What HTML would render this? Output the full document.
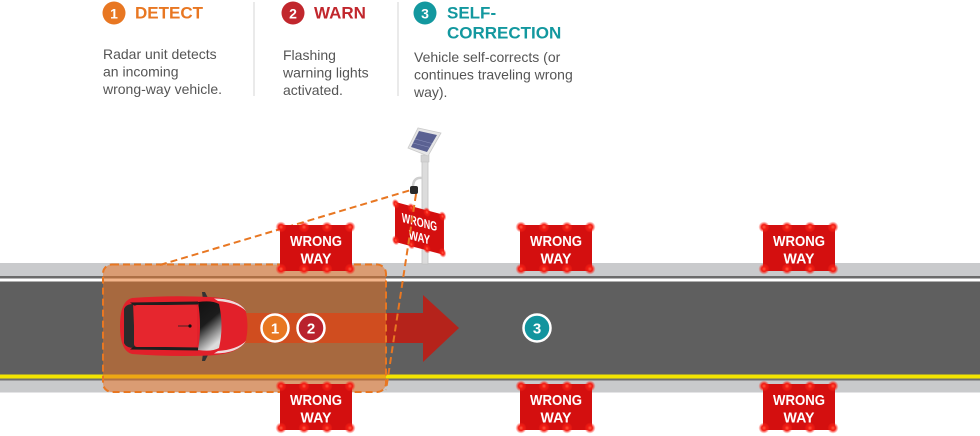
<!DOCTYPE html>
<html><head><meta charset="utf-8"><style>
html,body{margin:0;padding:0;background:#fff;}
svg{display:block;}
</style></head><body>
<svg width="980" height="436" viewBox="0 0 980 436" xmlns="http://www.w3.org/2000/svg" font-family="'Liberation Sans', Arial, sans-serif">
<defs>
  <radialGradient id="glow">
    <stop offset="0" stop-color="#ff5a40"/>
    <stop offset="0.45" stop-color="#f21a12"/>
    <stop offset="1" stop-color="#ff2a1a" stop-opacity="0"/>
  </radialGradient>
  <g id="lights">
    <circle cx="1" cy="3" r="5.5" fill="url(#glow)"/>
    <circle cx="24" cy="3" r="5.5" fill="url(#glow)"/>
    <circle cx="47" cy="3" r="5.5" fill="url(#glow)"/>
    <circle cx="70" cy="3" r="5.5" fill="url(#glow)"/>
    <circle cx="1" cy="45" r="5.5" fill="url(#glow)"/>
    <circle cx="24" cy="45" r="5.5" fill="url(#glow)"/>
    <circle cx="47" cy="45" r="5.5" fill="url(#glow)"/>
    <circle cx="70" cy="45" r="5.5" fill="url(#glow)"/>
  </g>
  <linearGradient id="wind" x1="0" y1="0" x2="0.4" y2="1">
    <stop offset="0" stop-color="#111"/>
    <stop offset="0.5" stop-color="#1c1c1c"/>
    <stop offset="0.78" stop-color="#8a8a8a"/>
    <stop offset="1" stop-color="#dcdcdc"/>
  </linearGradient>
</defs>

<!-- Top text -->
<circle cx="114" cy="13" r="11.5" fill="#e87722"/>
<text x="114" y="18.5" font-size="14" font-weight="bold" fill="#fff" text-anchor="middle">1</text>
<text x="135" y="18.5" font-size="17" font-weight="bold" fill="#e87722">DETECT</text>
<text font-size="14" fill="#555">
  <tspan x="103" y="59">Radar unit detects</tspan>
  <tspan x="103" y="76.5">an incoming</tspan>
  <tspan x="103" y="94">wrong-way vehicle.</tspan>
</text>
<line x1="254" y1="2" x2="254" y2="96" stroke="#e3e3e3" stroke-width="1.5"/>

<circle cx="293" cy="13" r="11.5" fill="#c1272d"/>
<text x="293" y="18.5" font-size="14" font-weight="bold" fill="#fff" text-anchor="middle">2</text>
<text x="314" y="18.5" font-size="17" font-weight="bold" fill="#c1272d">WARN</text>
<text font-size="14" fill="#555">
  <tspan x="283" y="60">Flashing</tspan>
  <tspan x="283" y="77.5">warning lights</tspan>
  <tspan x="283" y="95">activated.</tspan>
</text>
<line x1="398" y1="2" x2="398" y2="96" stroke="#e3e3e3" stroke-width="1.5"/>

<circle cx="425" cy="13" r="11.5" fill="#13989f"/>
<text x="425" y="18.5" font-size="14" font-weight="bold" fill="#fff" text-anchor="middle">3</text>
<text font-size="17" font-weight="bold" fill="#13989f">
  <tspan x="447" y="18.5">SELF-</tspan>
  <tspan x="447" y="38.5">CORRECTION</tspan>
</text>
<text font-size="14" fill="#555">
  <tspan x="414" y="62">Vehicle self-corrects (or</tspan>
  <tspan x="414" y="79.5">continues traveling wrong</tspan>
  <tspan x="414" y="97">way).</tspan>
</text>

<!-- Road -->
<rect x="0" y="263" width="980" height="13" fill="#c9cacc"/>
<rect x="0" y="276" width="980" height="2.5" fill="#6a6a6a"/>
<rect x="0" y="278.5" width="980" height="3" fill="#ffffff"/>
<rect x="0" y="281.5" width="980" height="93" fill="#5f5f5f"/>
<rect x="0" y="374.5" width="980" height="4" fill="#f2e400"/>
<rect x="0" y="378.5" width="980" height="2" fill="#6f6f6f"/>
<rect x="0" y="380.5" width="980" height="12" fill="#c9cacc"/>

<!-- Arrow -->
<rect x="200" y="313" width="224" height="30" fill="#b5231b"/>
<polygon points="423,295 459,328 423,362" fill="#b5231b"/>

<!-- Detection box -->
<rect x="103" y="264.5" width="283" height="127.5" rx="9" ry="9" fill="rgb(232,115,36)" fill-opacity="0.53" stroke="#e87722" stroke-width="2" stroke-dasharray="7,4"/>

<!-- Car -->
<g>
  <polygon points="202,292 205,292 209,300 203,300" fill="#333"/>
  <polygon points="202,361 205,361 209,353 203,353" fill="#333"/>
  <path d="M132,298 Q170,295 210,297 Q240,298 246,312 Q249,326 246,340 Q240,354 210,355.5 Q170,357 132,354 Q120,351 120,326 Q120,301 132,298 Z" fill="#e2202a"/>
  <path d="M124,309 Q126,304 133,304 L135,348 Q126,348 124,343 Z" fill="#2b2b2b"/>
  <path d="M130,302.5 L198,301.5 L198,304.5 L134,305.5 Z" fill="#1e1e1e"/>
  <path d="M130,349.5 L198,350.5 L198,347.5 L134,346.5 Z" fill="#1e1e1e"/>
  <rect x="134" y="305" width="63" height="42" rx="3" fill="#e6262e"/>
  <path d="M198,302 Q212,300 219,304 Q224,326 219,348 Q212,352 198,350 Q202,326 198,302 Z" fill="url(#wind)"/>
  <path d="M214,298.5 Q238,298.5 246,311 Q237,302.5 218,301 Z" fill="#f0f0f0" opacity="0.9"/>
  <path d="M214,353.5 Q238,353.5 246,341 Q237,349.5 218,351 Z" fill="#f0f0f0" opacity="0.9"/>
  <line x1="178" y1="326" x2="190" y2="326" stroke="#222" stroke-width="0.8"/>
  <circle cx="190" cy="326" r="1.6" fill="#111"/>
</g>

<!-- Road numbered circles -->
<circle cx="275" cy="328" r="13.5" fill="#e87722" stroke="#fff" stroke-width="2.5"/>
<text x="275" y="333.5" font-size="15" font-weight="bold" fill="#fff" text-anchor="middle">1</text>
<circle cx="311" cy="328" r="13.5" fill="#b9222d" stroke="#fff" stroke-width="2.5"/>
<text x="311" y="333.5" font-size="15" font-weight="bold" fill="#fff" text-anchor="middle">2</text>
<circle cx="537" cy="328" r="13.5" fill="#12949e" stroke="#fff" stroke-width="2.5"/>
<text x="537" y="333.5" font-size="15" font-weight="bold" fill="#fff" text-anchor="middle">3</text>

<!-- Dashed line 1 (radar to box) -->
<line x1="160" y1="265" x2="411" y2="190" stroke="#e87722" stroke-width="2" stroke-dasharray="7,4"/>

<!-- Flat signs -->
<g transform="translate(280,224)">
  <rect x="0" y="1" width="72" height="46" fill="#d40f0f"/>
  <text x="36" y="22" font-size="15" font-weight="bold" fill="#fff" text-anchor="middle" textLength="52" lengthAdjust="spacingAndGlyphs">WRONG</text>
  <text x="36" y="39.5" font-size="15" font-weight="bold" fill="#fff" text-anchor="middle" textLength="31" lengthAdjust="spacingAndGlyphs">WAY</text>
  <use href="#lights"/>
</g>
<g transform="translate(520,224)">
  <rect x="0" y="1" width="72" height="46" fill="#d40f0f"/>
  <text x="36" y="22" font-size="15" font-weight="bold" fill="#fff" text-anchor="middle" textLength="52" lengthAdjust="spacingAndGlyphs">WRONG</text>
  <text x="36" y="39.5" font-size="15" font-weight="bold" fill="#fff" text-anchor="middle" textLength="31" lengthAdjust="spacingAndGlyphs">WAY</text>
  <use href="#lights"/>
</g>
<g transform="translate(763,224)">
  <rect x="0" y="1" width="72" height="46" fill="#d40f0f"/>
  <text x="36" y="22" font-size="15" font-weight="bold" fill="#fff" text-anchor="middle" textLength="52" lengthAdjust="spacingAndGlyphs">WRONG</text>
  <text x="36" y="39.5" font-size="15" font-weight="bold" fill="#fff" text-anchor="middle" textLength="31" lengthAdjust="spacingAndGlyphs">WAY</text>
  <use href="#lights"/>
</g>
<g transform="translate(280,383)">
  <rect x="0" y="1" width="72" height="46" fill="#d40f0f"/>
  <text x="36" y="22" font-size="15" font-weight="bold" fill="#fff" text-anchor="middle" textLength="52" lengthAdjust="spacingAndGlyphs">WRONG</text>
  <text x="36" y="39.5" font-size="15" font-weight="bold" fill="#fff" text-anchor="middle" textLength="31" lengthAdjust="spacingAndGlyphs">WAY</text>
  <use href="#lights"/>
</g>
<g transform="translate(520,383)">
  <rect x="0" y="1" width="72" height="46" fill="#d40f0f"/>
  <text x="36" y="22" font-size="15" font-weight="bold" fill="#fff" text-anchor="middle" textLength="52" lengthAdjust="spacingAndGlyphs">WRONG</text>
  <text x="36" y="39.5" font-size="15" font-weight="bold" fill="#fff" text-anchor="middle" textLength="31" lengthAdjust="spacingAndGlyphs">WAY</text>
  <use href="#lights"/>
</g>
<g transform="translate(763,383)">
  <rect x="0" y="1" width="72" height="46" fill="#d40f0f"/>
  <text x="36" y="22" font-size="15" font-weight="bold" fill="#fff" text-anchor="middle" textLength="52" lengthAdjust="spacingAndGlyphs">WRONG</text>
  <text x="36" y="39.5" font-size="15" font-weight="bold" fill="#fff" text-anchor="middle" textLength="31" lengthAdjust="spacingAndGlyphs">WAY</text>
  <use href="#lights"/>
</g>

<!-- Pole -->
<rect x="422" y="160" width="6" height="104" fill="#dcdcdc" stroke="#c2c2c2" stroke-width="0.8"/>
<rect x="421" y="155" width="8" height="7" fill="#d2d2d2" stroke="#c2c2c2" stroke-width="0.6"/>
<!-- Solar panel -->
<polygon points="408,148 418,128 441,133 428,156" fill="#e6e6e6" stroke="#cacaca" stroke-width="0.8"/>
<polygon points="411,147 419,131 437,135 427,152" fill="#5a6192"/>
<line x1="415" y1="139" x2="432" y2="143.5" stroke="#8b91bb" stroke-width="0.6"/>
<line x1="413" y1="143" x2="430" y2="147.5" stroke="#8b91bb" stroke-width="0.6"/>
<!-- Radar bracket -->
<path d="M422,178 Q413,177 413,187" fill="none" stroke="#cfcfcf" stroke-width="2.5"/>
<rect x="410" y="186" width="8" height="8" rx="2" fill="#2a2a2a"/>

<!-- Pole sign (angled) -->
<g transform="matrix(0.68,0.18,0,0.87,395,201)">
  <rect x="0" y="1" width="72" height="46" fill="#d40f0f"/>
  <text x="36" y="22" font-size="15" font-weight="bold" fill="#fff" text-anchor="middle" textLength="52" lengthAdjust="spacingAndGlyphs">WRONG</text>
  <text x="36" y="39.5" font-size="15" font-weight="bold" fill="#fff" text-anchor="middle" textLength="31" lengthAdjust="spacingAndGlyphs">WAY</text>
  <use href="#lights"/>
</g>

<!-- Dashed line 2 (radar to box corner) -->
<line x1="416" y1="194" x2="386" y2="390" stroke="#e87722" stroke-width="2" stroke-dasharray="7,4"/>
</svg>
</body></html>
